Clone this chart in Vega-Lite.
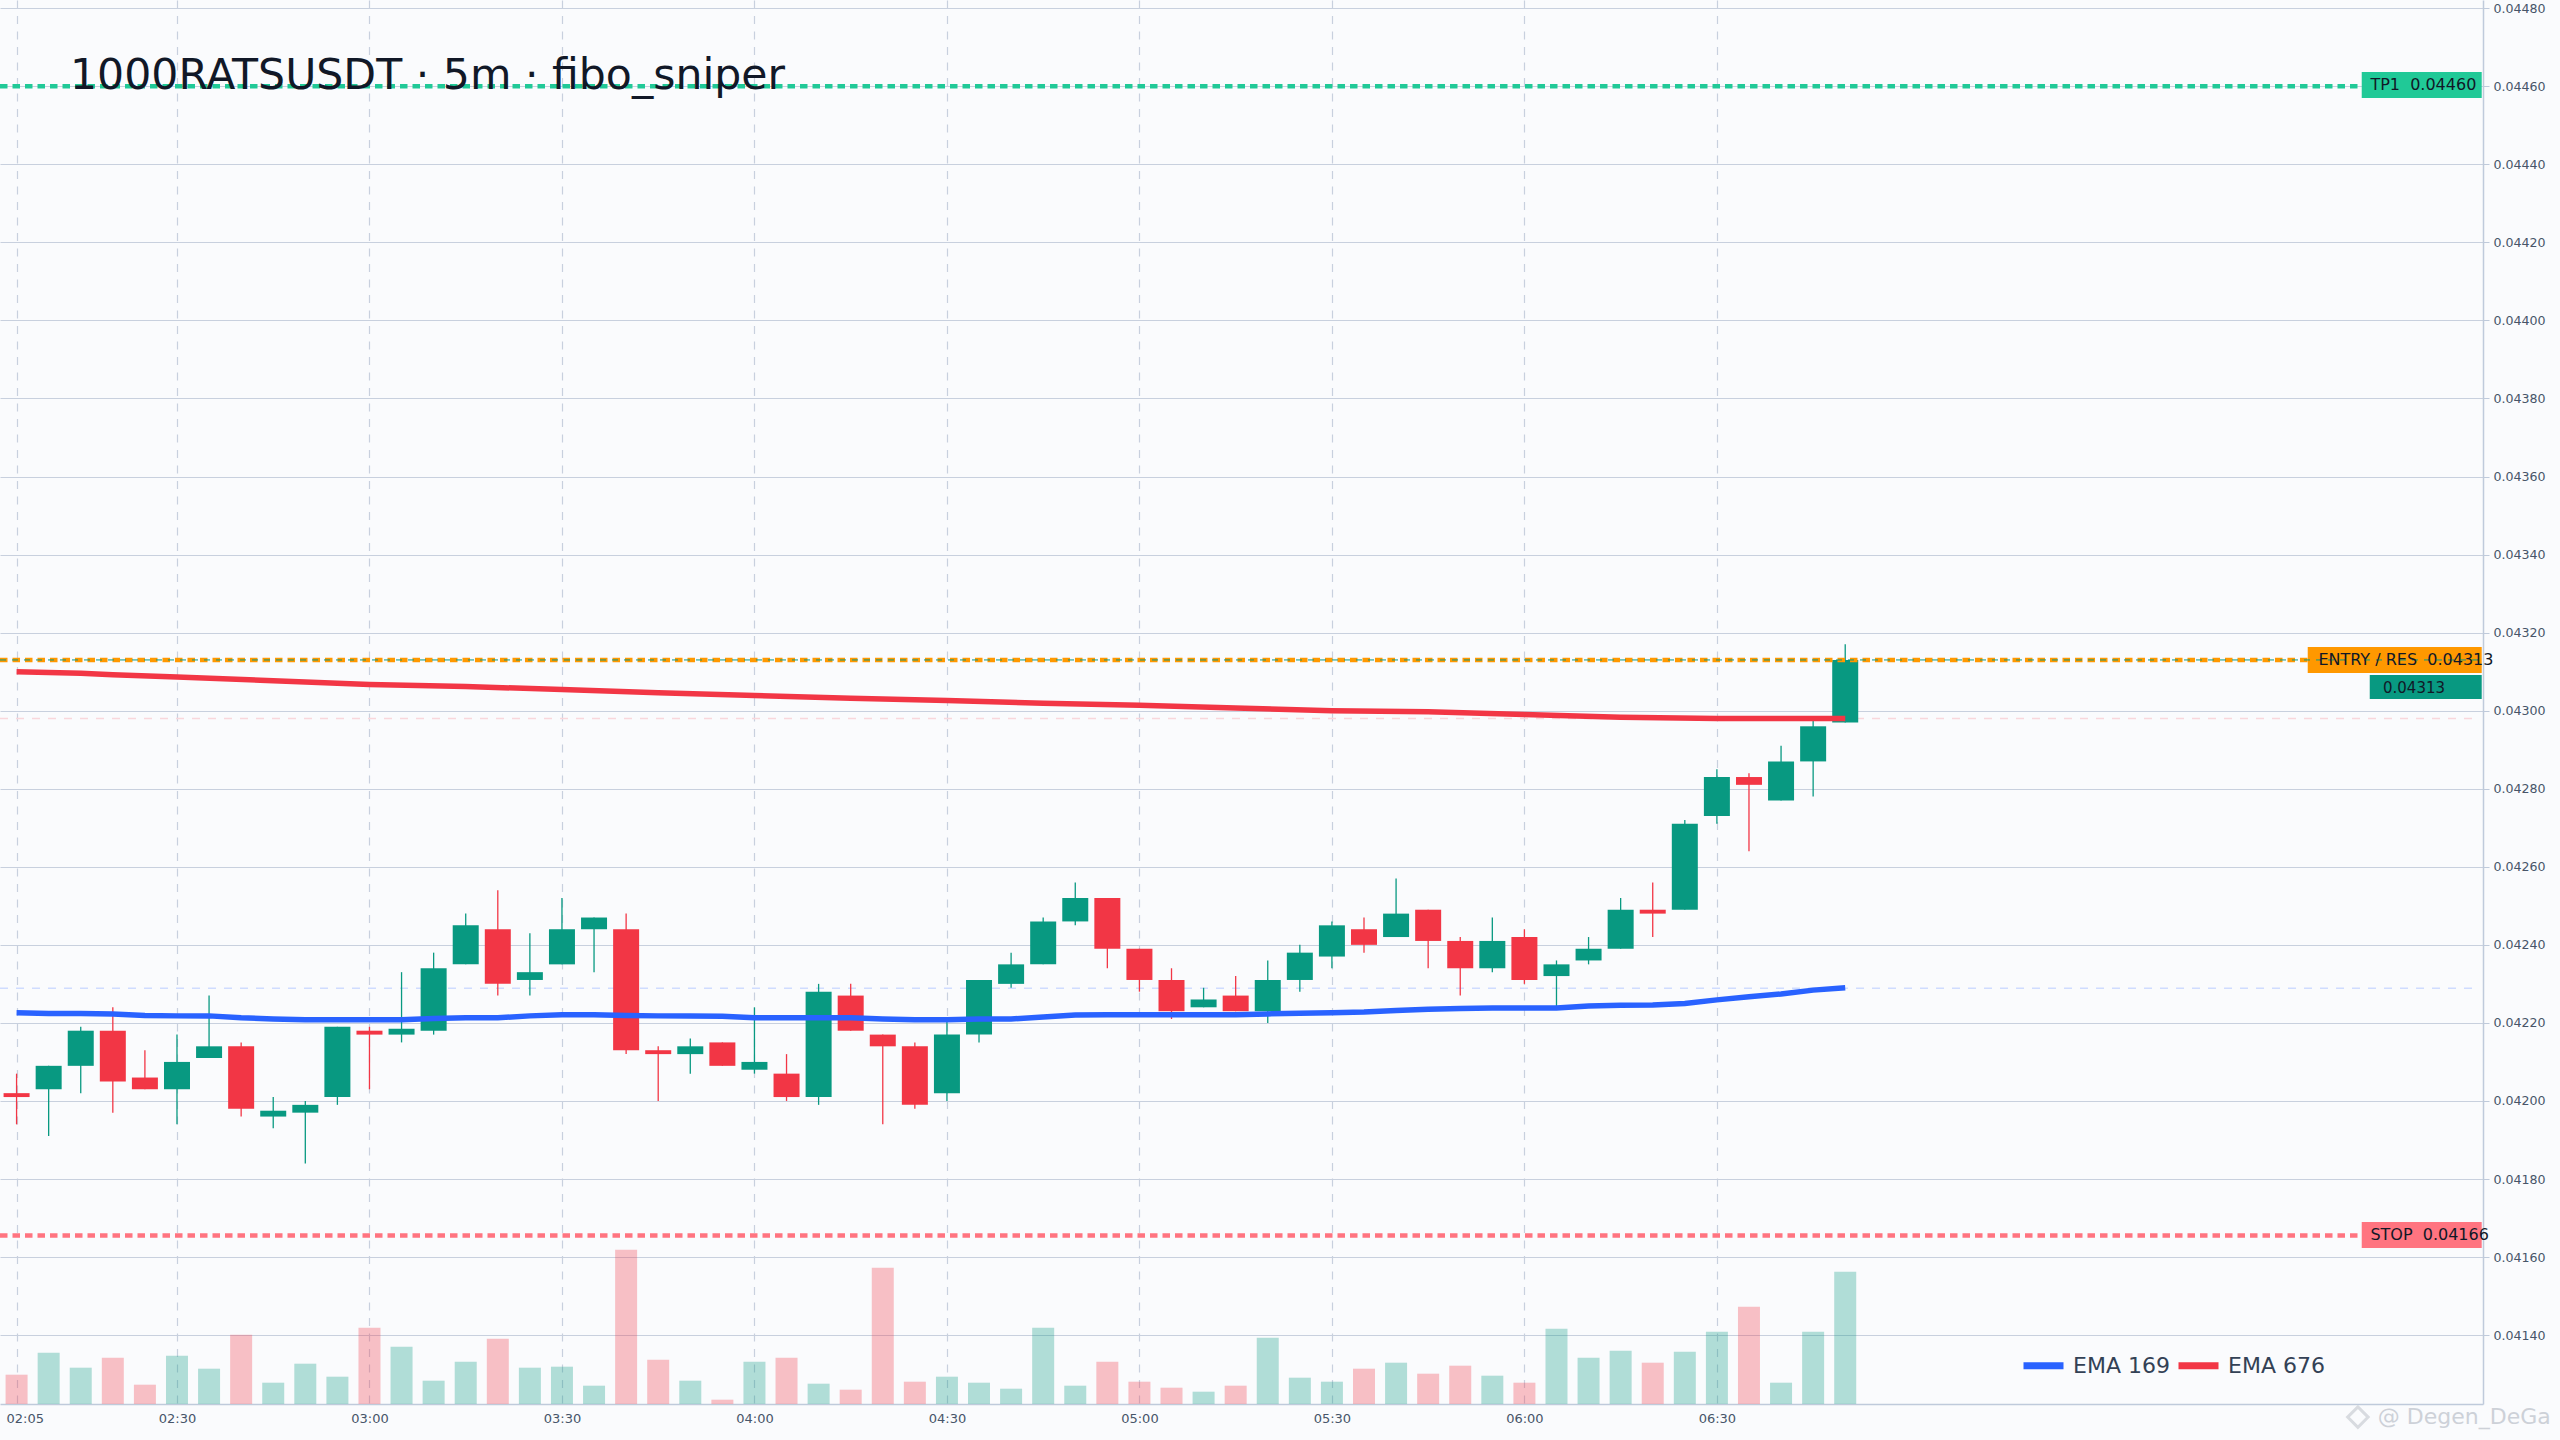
{
  "$schema": "https://vega.github.io/schema/vega-lite/v6.json",
  "width": 2483,
  "height": 1404,
  "padding": {"left": 0, "top": 0, "right": 77, "bottom": 36},
  "autosize": "none",
  "background": "#fafbfd",
  "title": {"text": "1000RATSUSDT · 5m · fibo_sniper", "anchor": "start", "frame": "group", "dx": 70, "dy": 132, "font": "DejaVu Sans", "fontSize": 42.6, "fontWeight": "normal", "color": "#111827", "baseline": "alphabetic", "offset": 0},
  "config": {
    "font": "DejaVu Sans",
    "view": {"stroke": null},
    "axis": {"domainColor": "#bfcadb", "tickColor": "#bfcadb", "labelColor": "#475569"}
  },
  "datasets": {
    "candles": [
      {"t":"2024-01-01T02:05:00Z","o":0.04202,"h":0.04207,"l":0.04194,"c":0.04201,"volume":29.3,"dir":"down"},
      {"t":"2024-01-01T02:10:00Z","o":0.04203,"h":0.04209,"l":0.04191,"c":0.04209,"volume":51.3,"dir":"up"},
      {"t":"2024-01-01T02:15:00Z","o":0.04209,"h":0.04219,"l":0.04202,"c":0.04218,"volume":36.3,"dir":"up"},
      {"t":"2024-01-01T02:20:00Z","o":0.04218,"h":0.04224,"l":0.04197,"c":0.04205,"volume":46.3,"dir":"down"},
      {"t":"2024-01-01T02:25:00Z","o":0.04206,"h":0.04213,"l":0.04203,"c":0.04203,"volume":19.3,"dir":"down"},
      {"t":"2024-01-01T02:30:00Z","o":0.04203,"h":0.04217,"l":0.04194,"c":0.0421,"volume":48.3,"dir":"up"},
      {"t":"2024-01-01T02:35:00Z","o":0.04211,"h":0.04227,"l":0.04211,"c":0.04214,"volume":35.3,"dir":"up"},
      {"t":"2024-01-01T02:40:00Z","o":0.04214,"h":0.04215,"l":0.04196,"c":0.04198,"volume":69.3,"dir":"down"},
      {"t":"2024-01-01T02:45:00Z","o":0.04196,"h":0.04201,"l":0.04193,"c":0.041975,"volume":21.3,"dir":"up"},
      {"t":"2024-01-01T02:50:00Z","o":0.04197,"h":0.042,"l":0.04184,"c":0.04199,"volume":40.3,"dir":"up"},
      {"t":"2024-01-01T02:55:00Z","o":0.04201,"h":0.04219,"l":0.04199,"c":0.04219,"volume":27.3,"dir":"up"},
      {"t":"2024-01-01T03:00:00Z","o":0.04218,"h":0.04219,"l":0.04203,"c":0.04217,"volume":76.3,"dir":"down"},
      {"t":"2024-01-01T03:05:00Z","o":0.04217,"h":0.04233,"l":0.04215,"c":0.042185,"volume":57.3,"dir":"up"},
      {"t":"2024-01-01T03:10:00Z","o":0.04218,"h":0.04238,"l":0.04217,"c":0.04234,"volume":23.3,"dir":"up"},
      {"t":"2024-01-01T03:15:00Z","o":0.04235,"h":0.04248,"l":0.04235,"c":0.04245,"volume":42.3,"dir":"up"},
      {"t":"2024-01-01T03:20:00Z","o":0.04244,"h":0.04254,"l":0.04227,"c":0.0423,"volume":65.3,"dir":"down"},
      {"t":"2024-01-01T03:25:00Z","o":0.04231,"h":0.04243,"l":0.04227,"c":0.04233,"volume":36.3,"dir":"up"},
      {"t":"2024-01-01T03:30:00Z","o":0.04235,"h":0.04252,"l":0.04235,"c":0.04244,"volume":37.3,"dir":"up"},
      {"t":"2024-01-01T03:35:00Z","o":0.04244,"h":0.04247,"l":0.04233,"c":0.04247,"volume":18.3,"dir":"up"},
      {"t":"2024-01-01T03:40:00Z","o":0.04244,"h":0.04248,"l":0.04212,"c":0.04213,"volume":154.3,"dir":"down"},
      {"t":"2024-01-01T03:45:00Z","o":0.04213,"h":0.04214,"l":0.042,"c":0.04212,"volume":44.3,"dir":"down"},
      {"t":"2024-01-01T03:50:00Z","o":0.04212,"h":0.04216,"l":0.04207,"c":0.04214,"volume":23.3,"dir":"up"},
      {"t":"2024-01-01T03:55:00Z","o":0.04215,"h":0.04215,"l":0.04209,"c":0.04209,"volume":4.3,"dir":"down"},
      {"t":"2024-01-01T04:00:00Z","o":0.04208,"h":0.04224,"l":0.04207,"c":0.0421,"volume":42.3,"dir":"up"},
      {"t":"2024-01-01T04:05:00Z","o":0.04207,"h":0.04212,"l":0.042,"c":0.04201,"volume":46.3,"dir":"down"},
      {"t":"2024-01-01T04:10:00Z","o":0.04201,"h":0.0423,"l":0.04199,"c":0.04228,"volume":20.3,"dir":"up"},
      {"t":"2024-01-01T04:15:00Z","o":0.04227,"h":0.0423,"l":0.04218,"c":0.04218,"volume":14.3,"dir":"down"},
      {"t":"2024-01-01T04:20:00Z","o":0.04217,"h":0.04217,"l":0.04194,"c":0.04214,"volume":136.3,"dir":"down"},
      {"t":"2024-01-01T04:25:00Z","o":0.04214,"h":0.04215,"l":0.04198,"c":0.04199,"volume":22.3,"dir":"down"},
      {"t":"2024-01-01T04:30:00Z","o":0.04202,"h":0.04221,"l":0.042,"c":0.04217,"volume":27.3,"dir":"up"},
      {"t":"2024-01-01T04:35:00Z","o":0.04217,"h":0.04231,"l":0.04215,"c":0.04231,"volume":21.3,"dir":"up"},
      {"t":"2024-01-01T04:40:00Z","o":0.0423,"h":0.04238,"l":0.04229,"c":0.04235,"volume":15.3,"dir":"up"},
      {"t":"2024-01-01T04:45:00Z","o":0.04235,"h":0.04247,"l":0.04235,"c":0.04246,"volume":76.3,"dir":"up"},
      {"t":"2024-01-01T04:50:00Z","o":0.04246,"h":0.04256,"l":0.04245,"c":0.04252,"volume":18.3,"dir":"up"},
      {"t":"2024-01-01T04:55:00Z","o":0.04252,"h":0.04252,"l":0.04234,"c":0.04239,"volume":42.3,"dir":"down"},
      {"t":"2024-01-01T05:00:00Z","o":0.04239,"h":0.04239,"l":0.04228,"c":0.04231,"volume":22.3,"dir":"down"},
      {"t":"2024-01-01T05:05:00Z","o":0.04231,"h":0.04234,"l":0.04221,"c":0.04223,"volume":16.3,"dir":"down"},
      {"t":"2024-01-01T05:10:00Z","o":0.04224,"h":0.04229,"l":0.04224,"c":0.04226,"volume":12.3,"dir":"up"},
      {"t":"2024-01-01T05:15:00Z","o":0.04227,"h":0.04232,"l":0.04223,"c":0.04223,"volume":18.3,"dir":"down"},
      {"t":"2024-01-01T05:20:00Z","o":0.04223,"h":0.04236,"l":0.0422,"c":0.04231,"volume":66.3,"dir":"up"},
      {"t":"2024-01-01T05:25:00Z","o":0.04231,"h":0.0424,"l":0.04228,"c":0.04238,"volume":26.3,"dir":"up"},
      {"t":"2024-01-01T05:30:00Z","o":0.04237,"h":0.04246,"l":0.04234,"c":0.04245,"volume":22.3,"dir":"up"},
      {"t":"2024-01-01T05:35:00Z","o":0.04244,"h":0.04247,"l":0.04238,"c":0.0424,"volume":35.3,"dir":"down"},
      {"t":"2024-01-01T05:40:00Z","o":0.04242,"h":0.04257,"l":0.04242,"c":0.04248,"volume":41.3,"dir":"up"},
      {"t":"2024-01-01T05:45:00Z","o":0.04249,"h":0.04249,"l":0.04234,"c":0.04241,"volume":30.3,"dir":"down"},
      {"t":"2024-01-01T05:50:00Z","o":0.04241,"h":0.04242,"l":0.04227,"c":0.04234,"volume":38.3,"dir":"down"},
      {"t":"2024-01-01T05:55:00Z","o":0.04234,"h":0.04247,"l":0.04233,"c":0.04241,"volume":28.3,"dir":"up"},
      {"t":"2024-01-01T06:00:00Z","o":0.04242,"h":0.04244,"l":0.0423,"c":0.04231,"volume":21.3,"dir":"down"},
      {"t":"2024-01-01T06:05:00Z","o":0.04232,"h":0.04236,"l":0.04224,"c":0.04235,"volume":75.3,"dir":"up"},
      {"t":"2024-01-01T06:10:00Z","o":0.04236,"h":0.04242,"l":0.04235,"c":0.04239,"volume":46.3,"dir":"up"},
      {"t":"2024-01-01T06:15:00Z","o":0.04239,"h":0.04252,"l":0.04239,"c":0.04249,"volume":53.3,"dir":"up"},
      {"t":"2024-01-01T06:20:00Z","o":0.04249,"h":0.04256,"l":0.04242,"c":0.04248,"volume":41.3,"dir":"down"},
      {"t":"2024-01-01T06:25:00Z","o":0.04249,"h":0.04272,"l":0.04249,"c":0.04271,"volume":52.3,"dir":"up"},
      {"t":"2024-01-01T06:30:00Z","o":0.04273,"h":0.04285,"l":0.04271,"c":0.04283,"volume":72.3,"dir":"up"},
      {"t":"2024-01-01T06:35:00Z","o":0.04283,"h":0.04284,"l":0.04264,"c":0.04281,"volume":97.3,"dir":"down"},
      {"t":"2024-01-01T06:40:00Z","o":0.04277,"h":0.04291,"l":0.04277,"c":0.04287,"volume":21.3,"dir":"up"},
      {"t":"2024-01-01T06:45:00Z","o":0.04287,"h":0.04298,"l":0.04278,"c":0.04296,"volume":72.3,"dir":"up"},
      {"t":"2024-01-01T06:50:00Z","o":0.04297,"h":0.04317,"l":0.04297,"c":0.04313,"volume":132.3,"dir":"up"}
    ],
    "ema": [
      {"t":"2024-01-01T02:05:00Z","name":"EMA 169","v":0.042226},{"t":"2024-01-01T02:10:00Z","name":"EMA 169","v":0.042224},{"t":"2024-01-01T02:15:00Z","name":"EMA 169","v":0.042224},{"t":"2024-01-01T02:20:00Z","name":"EMA 169","v":0.042223},{"t":"2024-01-01T02:25:00Z","name":"EMA 169","v":0.042219},{"t":"2024-01-01T02:30:00Z","name":"EMA 169","v":0.042218},{"t":"2024-01-01T02:35:00Z","name":"EMA 169","v":0.042218},{"t":"2024-01-01T02:40:00Z","name":"EMA 169","v":0.042213},{"t":"2024-01-01T02:45:00Z","name":"EMA 169","v":0.04221},{"t":"2024-01-01T02:50:00Z","name":"EMA 169","v":0.042208},{"t":"2024-01-01T02:55:00Z","name":"EMA 169","v":0.042208},{"t":"2024-01-01T03:00:00Z","name":"EMA 169","v":0.042208},{"t":"2024-01-01T03:05:00Z","name":"EMA 169","v":0.042208},{"t":"2024-01-01T03:10:00Z","name":"EMA 169","v":0.042211},{"t":"2024-01-01T03:15:00Z","name":"EMA 169","v":0.042213},{"t":"2024-01-01T03:20:00Z","name":"EMA 169","v":0.042213},{"t":"2024-01-01T03:25:00Z","name":"EMA 169","v":0.042218},{"t":"2024-01-01T03:30:00Z","name":"EMA 169","v":0.042221},{"t":"2024-01-01T03:35:00Z","name":"EMA 169","v":0.042221},{"t":"2024-01-01T03:40:00Z","name":"EMA 169","v":0.042219},{"t":"2024-01-01T03:45:00Z","name":"EMA 169","v":0.042218},{"t":"2024-01-01T03:50:00Z","name":"EMA 169","v":0.042218},{"t":"2024-01-01T03:55:00Z","name":"EMA 169","v":0.042217},{"t":"2024-01-01T04:00:00Z","name":"EMA 169","v":0.042213},{"t":"2024-01-01T04:05:00Z","name":"EMA 169","v":0.042213},{"t":"2024-01-01T04:10:00Z","name":"EMA 169","v":0.042213},{"t":"2024-01-01T04:15:00Z","name":"EMA 169","v":0.042213},{"t":"2024-01-01T04:20:00Z","name":"EMA 169","v":0.04221},{"t":"2024-01-01T04:25:00Z","name":"EMA 169","v":0.042208},{"t":"2024-01-01T04:30:00Z","name":"EMA 169","v":0.042208},{"t":"2024-01-01T04:35:00Z","name":"EMA 169","v":0.04221},{"t":"2024-01-01T04:40:00Z","name":"EMA 169","v":0.04221},{"t":"2024-01-01T04:45:00Z","name":"EMA 169","v":0.042215},{"t":"2024-01-01T04:50:00Z","name":"EMA 169","v":0.04222},{"t":"2024-01-01T04:55:00Z","name":"EMA 169","v":0.042221},{"t":"2024-01-01T05:00:00Z","name":"EMA 169","v":0.042221},{"t":"2024-01-01T05:05:00Z","name":"EMA 169","v":0.042221},{"t":"2024-01-01T05:10:00Z","name":"EMA 169","v":0.042221},{"t":"2024-01-01T05:15:00Z","name":"EMA 169","v":0.042221},{"t":"2024-01-01T05:20:00Z","name":"EMA 169","v":0.042223},{"t":"2024-01-01T05:25:00Z","name":"EMA 169","v":0.042225},{"t":"2024-01-01T05:30:00Z","name":"EMA 169","v":0.042226},{"t":"2024-01-01T05:35:00Z","name":"EMA 169","v":0.042228},{"t":"2024-01-01T05:40:00Z","name":"EMA 169","v":0.042232},{"t":"2024-01-01T05:45:00Z","name":"EMA 169","v":0.042235},{"t":"2024-01-01T05:50:00Z","name":"EMA 169","v":0.042237},{"t":"2024-01-01T05:55:00Z","name":"EMA 169","v":0.042238},{"t":"2024-01-01T06:00:00Z","name":"EMA 169","v":0.042238},{"t":"2024-01-01T06:05:00Z","name":"EMA 169","v":0.042238},{"t":"2024-01-01T06:10:00Z","name":"EMA 169","v":0.042243},{"t":"2024-01-01T06:15:00Z","name":"EMA 169","v":0.042245},{"t":"2024-01-01T06:20:00Z","name":"EMA 169","v":0.042246},{"t":"2024-01-01T06:25:00Z","name":"EMA 169","v":0.04225},{"t":"2024-01-01T06:30:00Z","name":"EMA 169","v":0.042259},{"t":"2024-01-01T06:35:00Z","name":"EMA 169","v":0.042267},{"t":"2024-01-01T06:40:00Z","name":"EMA 169","v":0.042274},{"t":"2024-01-01T06:45:00Z","name":"EMA 169","v":0.042284},{"t":"2024-01-01T06:50:00Z","name":"EMA 169","v":0.04229},
      {"t":"2024-01-01T02:05:00Z","name":"EMA 676","v":0.0431},{"t":"2024-01-01T02:15:00Z","name":"EMA 676","v":0.043096},{"t":"2024-01-01T02:20:00Z","name":"EMA 676","v":0.043092},{"t":"2024-01-01T02:30:00Z","name":"EMA 676","v":0.043086},{"t":"2024-01-01T02:45:00Z","name":"EMA 676","v":0.043077},{"t":"2024-01-01T03:00:00Z","name":"EMA 676","v":0.043067},{"t":"2024-01-01T03:15:00Z","name":"EMA 676","v":0.043062},{"t":"2024-01-01T03:30:00Z","name":"EMA 676","v":0.043054},{"t":"2024-01-01T03:45:00Z","name":"EMA 676","v":0.043046},{"t":"2024-01-01T04:00:00Z","name":"EMA 676","v":0.043039},{"t":"2024-01-01T04:15:00Z","name":"EMA 676","v":0.043032},{"t":"2024-01-01T04:30:00Z","name":"EMA 676","v":0.043026},{"t":"2024-01-01T04:45:00Z","name":"EMA 676","v":0.043019},{"t":"2024-01-01T05:00:00Z","name":"EMA 676","v":0.043014},{"t":"2024-01-01T05:15:00Z","name":"EMA 676","v":0.043007},{"t":"2024-01-01T05:30:00Z","name":"EMA 676","v":0.043},{"t":"2024-01-01T05:45:00Z","name":"EMA 676","v":0.042997},{"t":"2024-01-01T06:00:00Z","name":"EMA 676","v":0.04299},{"t":"2024-01-01T06:15:00Z","name":"EMA 676","v":0.042983},{"t":"2024-01-01T06:30:00Z","name":"EMA 676","v":0.04298},{"t":"2024-01-01T06:50:00Z","name":"EMA 676","v":0.04298}
    ],
    "levels": [
      {"level":"TP1","price":0.0446,"from":"2024-01-01T02:02:25Z","to":"2024-01-01T08:10:30Z","color":"#20c997"},
      {"level":"ENTRY / RES","price":0.04313,"from":"2024-01-01T02:02:25Z","to":"2024-01-01T08:02:05Z","color":"#ff9800"},
      {"level":"STOP","price":0.041655,"from":"2024-01-01T02:02:25Z","to":"2024-01-01T08:10:30Z","color":"#ff7480"}
    ],
    "tags": [
      {"label":"TP1\u00a0\u00a00.04460","start":"2024-01-01T08:10:30Z","end":"2024-01-01T08:29:12Z","text_at":"2024-01-01T08:11:51Z","top":0.04463677,"bottom":0.04457014,"mid":0.044602,"color":"#20c997","size":16},
      {"label":"ENTRY / RES\u00a0\u00a00.04313","start":"2024-01-01T08:02:05Z","end":"2024-01-01T08:29:12Z","text_at":"2024-01-01T08:03:45Z","top":0.04316333,"bottom":0.04309671,"mid":0.04313,"color":"#ff9800","size":16},
      {"label":"0.04313","start":"2024-01-01T08:11:45Z","end":"2024-01-01T08:29:12Z","text_at":"2024-01-01T08:13:49Z","top":0.04309158,"bottom":0.04303008,"mid":0.043058,"color":"#089981","size":15},
      {"label":"STOP\u00a0\u00a00.04166","start":"2024-01-01T08:10:30Z","end":"2024-01-01T08:29:12Z","text_at":"2024-01-01T08:11:51Z","top":0.04168989,"bottom":0.04162327,"mid":0.041657,"color":"#ff7480","size":16}
    ],
    "last": [
      {"name":"EMA 169 last","price":0.042289,"from":"2024-01-01T02:02:25Z","to":"2024-01-01T08:28:30Z","color":"#cfdcff"},
      {"name":"EMA 676 last","price":0.04298,"from":"2024-01-01T02:02:25Z","to":"2024-01-01T08:28:30Z","color":"#f9d7dc"},
      {"name":"close","price":0.04313,"from":"2024-01-01T02:02:25Z","to":"2024-01-01T08:29:12Z","color":"#089981"}
    ],
    "watermark": [
      {"label":"@ Degen_DeGa","at":"2024-01-01T08:13:00Z","icon_at":"2024-01-01T08:09:54Z","price":0.04119}
    ]
  },
  "layer": [
    {
      "data": {"name": "candles"},
      "mark": {"type": "bar", "size": 22, "opacity": 0.3},
      "encoding": {
        "x": {
          "field": "t", "type": "temporal",
          "scale": {"type": "utc", "domain": [1704074545000, 1704097764000], "padding": 0},
          "axis": {
            "title": null, "orient": "bottom", "labelExpr": "utcFormat(datum.value, '%H:%M')",
            "values": [1704074700000, 1704076200000, 1704078000000, 1704079800000, 1704081600000, 1704083400000, 1704085200000, 1704087000000, 1704088800000, 1704090600000],
            "labelFontSize": 13, "labelPadding": 8, "labelFlush": 20, "labelFlushOffset": 10.6, "ticks": false,
            "grid": true, "gridColor": "#c8d0de", "gridWidth": 1.2, "gridDash": [8, 7.5], "domainWidth": 1.5
          }
        },
        "y": {"field": "volume", "type": "quantitative", "scale": {"domain": [0, 1404], "nice": false}, "axis": null},
        "color": {"field": "dir", "type": "nominal", "scale": {"domain": ["up", "down"], "range": ["#089981", "#f23645"]}, "legend": null}
      }
    },
    {
      "layer": [
        {
          "data": {"name": "last"},
          "transform": [{"filter": "datum.name != 'close'"}],
          "mark": {"type": "rule", "strokeWidth": 1.5, "strokeDash": [8, 8]},
          "encoding": {
            "x": {"field": "from", "type": "temporal", "scale": {"type": "utc", "domain": [1704074545000, 1704097764000], "padding": 0}},
            "x2": {"field": "to"},
            "y": {"field": "price", "type": "quantitative", "scale": {"domain": [0.0412235, 0.044821], "nice": false, "zero": false}, "axis": {"title": null, "orient": "right", "values": [0.0414, 0.0416, 0.0418, 0.042, 0.0422, 0.0424, 0.0426, 0.0428, 0.043, 0.0432, 0.0434, 0.0436, 0.0438, 0.044, 0.0442, 0.0444, 0.0446, 0.0448], "format": ".5f", "labelFontSize": 12.6, "labelPadding": 4, "tickSize": 6, "grid": true, "gridColor": "#c8d0de", "gridWidth": 1.2, "domainWidth": 1.5}},
            "color": {"field": "color", "type": "nominal", "scale": null}
          }
        },
        {
          "data": {"name": "candles"},
          "mark": {"type": "rule", "strokeWidth": 1.3},
          "encoding": {
            "x": {"field": "t", "type": "temporal", "scale": {"type": "utc", "domain": [1704074545000, 1704097764000], "padding": 0}},
            "y": {"field": "l", "type": "quantitative", "scale": {"domain": [0.0412235, 0.044821], "nice": false, "zero": false}},
            "y2": {"field": "h"},
            "color": {"field": "dir", "type": "nominal", "scale": {"domain": ["up", "down"], "range": ["#089981", "#f23645"]}, "legend": null}
          }
        },
        {
          "data": {"name": "candles"},
          "mark": {"type": "bar", "size": 26},
          "encoding": {
            "x": {"field": "t", "type": "temporal", "scale": {"type": "utc", "domain": [1704074545000, 1704097764000], "padding": 0}},
            "y": {"field": "o", "type": "quantitative", "scale": {"domain": [0.0412235, 0.044821], "nice": false, "zero": false}},
            "y2": {"field": "c"},
            "color": {"field": "dir", "type": "nominal", "scale": {"domain": ["up", "down"], "range": ["#089981", "#f23645"]}, "legend": null}
          }
        },
        {
          "data": {"name": "levels"},
          "mark": {"type": "rule", "strokeWidth": 4.5, "strokeDash": [7.5, 5]},
          "encoding": {
            "x": {"field": "from", "type": "temporal", "scale": {"type": "utc", "domain": [1704074545000, 1704097764000], "padding": 0}},
            "x2": {"field": "to"},
            "y": {"field": "price", "type": "quantitative", "scale": {"domain": [0.0412235, 0.044821], "nice": false, "zero": false}},
            "color": {"field": "color", "type": "nominal", "scale": null}
          }
        },
        {
          "data": {"name": "ema"},
          "mark": {"type": "line", "strokeWidth": 5.5},
          "encoding": {
            "x": {"field": "t", "type": "temporal", "scale": {"type": "utc", "domain": [1704074545000, 1704097764000], "padding": 0}},
            "y": {"field": "v", "type": "quantitative", "scale": {"domain": [0.0412235, 0.044821], "nice": false, "zero": false}},
            "stroke": {
              "field": "name", "type": "nominal",
              "scale": {"domain": ["EMA 169", "EMA 676"], "range": ["#2962ff", "#f23645"]},
              "legend": {
                "title": null, "orient": "none", "legendX": 2020, "legendY": 1342, "direction": "horizontal",
                "symbolType": "stroke", "symbolSize": 1600, "symbolStrokeWidth": 7, "labelFontSize": 22,
                "labelColor": "#334155", "labelOffset": 6, "columnPadding": -6, "rowPadding": 0
              }
            }
          }
        },
        {
          "data": {"name": "tags"},
          "mark": {"type": "rect"},
          "encoding": {
            "x": {"field": "start", "type": "temporal", "scale": {"type": "utc", "domain": [1704074545000, 1704097764000], "padding": 0}},
            "x2": {"field": "end"},
            "y": {"field": "top", "type": "quantitative", "scale": {"domain": [0.0412235, 0.044821], "nice": false, "zero": false}},
            "y2": {"field": "bottom"},
            "color": {"field": "color", "type": "nominal", "scale": null}
          }
        },
        {
          "data": {"name": "last"},
          "transform": [{"filter": "datum.name == 'close'"}],
          "mark": {"type": "rule", "strokeWidth": 1, "strokeDash": [6, 6]},
          "encoding": {
            "x": {"field": "from", "type": "temporal", "scale": {"type": "utc", "domain": [1704074545000, 1704097764000], "padding": 0}},
            "x2": {"field": "to"},
            "y": {"field": "price", "type": "quantitative", "scale": {"domain": [0.0412235, 0.044821], "nice": false, "zero": false}},
            "color": {"field": "color", "type": "nominal", "scale": null}
          }
        },
        {
          "data": {"name": "tags"},
          "mark": {"type": "text", "align": "left", "baseline": "middle", "color": "#111827"},
          "encoding": {
            "x": {"field": "text_at", "type": "temporal", "scale": {"type": "utc", "domain": [1704074545000, 1704097764000], "padding": 0}},
            "y": {"field": "mid", "type": "quantitative", "scale": {"domain": [0.0412235, 0.044821], "nice": false, "zero": false}},
            "text": {"field": "label", "type": "nominal"},
            "size": {"field": "size", "type": "quantitative", "scale": null}
          }
        },
        {
          "data": {"name": "watermark"},
          "mark": {"type": "text", "align": "left", "baseline": "middle", "fontSize": 22, "color": "#cdd1d8"},
          "encoding": {
            "x": {"field": "at", "type": "temporal", "scale": {"type": "utc", "domain": [1704074545000, 1704097764000], "padding": 0}},
            "y": {"field": "price", "type": "quantitative", "scale": {"domain": [0.0412235, 0.044821], "nice": false, "zero": false}},
            "text": {"field": "label", "type": "nominal"}
          }
        },
        {
          "data": {"name": "watermark"},
          "mark": {"type": "point", "shape": "diamond", "size": 420, "strokeWidth": 3, "color": "#d8dbe0", "opacity": 1},
          "encoding": {
            "x": {"field": "icon_at", "type": "temporal", "scale": {"type": "utc", "domain": [1704074545000, 1704097764000], "padding": 0}},
            "y": {"field": "price", "type": "quantitative", "scale": {"domain": [0.0412235, 0.044821], "nice": false, "zero": false}}
          }
        }
      ]
    }
  ],
  "resolve": {"scale": {"y": "independent"}}
}
